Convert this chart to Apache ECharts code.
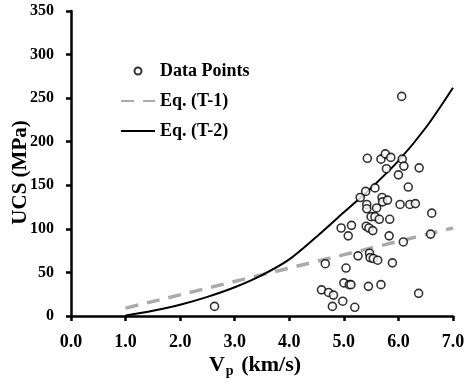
<!DOCTYPE html>
<html>
<head>
<meta charset="utf-8">
<script src="https://cdn.jsdelivr.net/npm/echarts@6/dist/echarts.min.js"></script>
<style>html,body{margin:0;padding:0;background:#fff}#c{width:474px;height:388px}</style>
</head>
<body>
<div id="c"></div>
<script>
// Data points (Vp km/s, UCS MPa)
var pointVp  = [5.43,5.68,5.76,5.86,5.78,6.07,6.10,6.38,6.00,6.18,5.57,5.40,5.30,5.70,5.71,5.80,5.42,5.42,5.60,6.03,6.21,6.31,6.61,5.50,5.57,5.65,5.84,4.95,5.14,5.08,5.41,5.46,5.53,5.83,6.09,6.59,4.66,5.04,5.26,5.47,5.48,5.54,5.62,5.89,5.00,5.10,5.13,5.45,5.68,4.59,4.72,4.81,4.98,4.79,5.20,6.37,6.06,2.63];
var pointUcs = [181,180,186,182,169,180,172,170,162,148,147,143,136,136,131,133,128,123,124,128,128,129,118,114,114,111,111,101,104,92,103,101,98,92,85,94,60,55,69,72,67,66,64,61,38,36,36,34,36,30,27,24,17,11,10,26,252,11];
// Eq. (T-1)
var t1Vp  = [1.0, 7.0];
var t1Ucs = [9, 101];
// Eq. (T-2)
var t2Vp  = [1.0, 1.5, 2.0, 2.5, 3.0, 3.5, 4.0, 4.5, 5.0, 5.5, 6.0, 6.5, 7.0];
var t2Ucs = [0.5, 6, 13, 22, 33, 47, 65, 91, 119, 147, 178, 216, 262];

function zip(a, b) { return a.map(function (v, i) { return [v, b[i]]; }); }

var FONT = "'Liberation Serif', 'Times New Roman', serif";
var chart = echarts.init(document.getElementById('c'), null, {renderer: 'canvas'});
chart.setOption({
  animation: false,
  backgroundColor: '#fff',
  grid: {left: 71, right: 21, top: 11, bottom: 72, containLabel: false, outerBoundsMode: 'none'},
  legend: {
    orient: 'vertical',
    left: 120,
    top: 62,
    padding: 0,
    itemWidth: 34,
    itemHeight: 7,
    itemGap: 12,
    textStyle: {fontFamily: FONT, fontWeight: 'bold', fontSize: 18, color: '#000'},
    data: [
      'Data Points',
      {name: 'Eq. (T-1)', itemStyle: {opacity: 0}},
      {name: 'Eq. (T-2)', itemStyle: {opacity: 0}}
    ]
  },
  xAxis: {
    type: 'value', min: 0, max: 7, interval: 1,
    name: '{v|V}{s|p}{v| (km/s)}',
    nameLocation: 'middle', nameGap: 37, nameMoveOverlap: false,
    nameTextStyle: {
      padding: [0, 14, 0, 0],
      rich: {
        v: {fontFamily: FONT, fontWeight: 'bold', fontSize: 22, color: '#000', lineHeight: 24},
        s: {fontFamily: FONT, fontWeight: 'bold', fontSize: 14, color: '#000', lineHeight: 24, padding: [12, 2, 0, 1]}
      }
    },
    axisLine: {lineStyle: {color: '#000', width: 2.5}},
    axisTick: {length: 5, lineStyle: {color: '#000', width: 2.5}},
    axisLabel: {fontFamily: FONT, fontWeight: 'bold', fontSize: 18, color: '#000', margin: 17,
      formatter: function (v) { return v.toFixed(1); }},
    splitLine: {show: false}
  },
  yAxis: {
    type: 'value', min: 0, max: 350, interval: 50,
    name: 'UCS (MPa)',
    nameLocation: 'middle', nameGap: 40, nameMoveOverlap: false,
    nameTextStyle: {fontFamily: FONT, fontWeight: 'bold', fontSize: 21, color: '#000', padding: [0, 18, 0, 0]},
    axisLine: {show: true, lineStyle: {color: '#000', width: 2.5}},
    axisTick: {show: true, length: 5, lineStyle: {color: '#000', width: 2.5}},
    axisLabel: {fontFamily: FONT, fontWeight: 'bold', fontSize: 16, color: '#000', margin: 17},
    splitLine: {show: false}
  },
  series: [
    {
      name: 'Data Points', type: 'scatter', z: 5,
      symbol: 'circle', symbolSize: 8,
      itemStyle: {color: '#fff', borderColor: '#000', borderWidth: 1.6},
      data: zip(pointVp, pointUcs)
    },
    {
      name: 'Eq. (T-1)', type: 'line', symbol: 'none', z: 3,
      lineStyle: {color: '#aaaaaa', width: 3.5, type: [13, 9]},
      itemStyle: {color: '#aaaaaa'},
      data: zip(t1Vp, t1Ucs)
    },
    {
      name: 'Eq. (T-2)', type: 'line', symbol: 'none', smooth: 0.3, z: 4,
      lineStyle: {color: '#000', width: 2},
      itemStyle: {color: '#000'},
      data: zip(t2Vp, t2Ucs)
    }
  ]
});
</script>
</body>
</html>
